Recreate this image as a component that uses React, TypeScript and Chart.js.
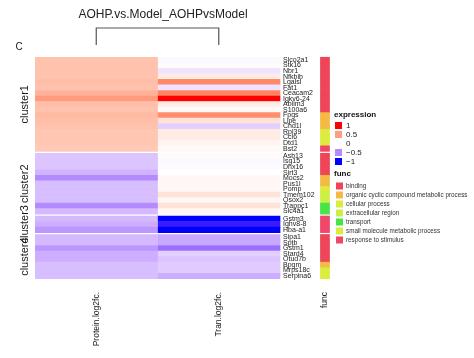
import React, { useEffect, useRef } from "react";
import { Chart, registerables } from "chart.js";
Chart.register(...registerables);

const FONT = '"Liberation Sans", Arial, sans-serif';

const clusterNames = ["cluster1", "cluster2", "cluster3", "cluster4"];
const cluster1Genes = ["Slco2a1", "Stk16", "Nbr1", "Nfkbib", "Lgalsl", "Fat1", "Ceacam2", "Igkv6-24", "Ablim3", "S100a6", "Fpgs", "Lipe", "Chd1l", "Rpl39", "Ccl6", "Dtd1", "Bst2"];
const cluster2Genes = ["Asb13", "Isg15", "Dhx16", "Sirt3", "Mocs2", "Pus1l", "Pomp", "Tmem102", "Qsox2", "Trappc1", "Slc4a1"];
const cluster3Genes = ["Gstm3", "Ighv8-8", "Hba-a1"];
const cluster4Genes = ["Sipa1", "Sptb", "Gstm1", "Stard4", "Otud7b", "Bpgm", "Mrps18c", "Serpina6"];

const proteinC1 = [0.32, 0.32, 0.32, 0.32, 0.34, 0.32, 0.4, 0.52, 0.34, 0.32, 0.36, 0.34, 0.32, 0.3, 0.3, 0.3, 0.28];
const tranC1 = [-0.03, 0.02, -0.12, 0.1, 0.6, -0.12, 0.62, 1.0, 0.1, 0.03, 0.58, 0.15, -0.2, 0.1, 0.1, 0.06, 0.03];
const proteinC2 = [-0.25, -0.25, -0.25, -0.32, -0.5, -0.28, -0.28, -0.28, -0.28, -0.5, -0.3];
const tranC2 = [0.02, -0.03, -0.02, 0.0, 0.04, 0.04, 0.04, 0.15, 0.04, 0.15, 0.04];
const proteinC3 = [-0.3, -0.35, -0.45];
const tranC3 = [-1.0, -0.95, -1.0];
const proteinC4 = [-0.3, -0.3, -0.45, -0.35, -0.35, -0.28, -0.28, -0.28];
const tranC4 = [-0.38, -0.38, -0.62, -0.2, -0.25, -0.22, -0.22, -0.35];

const funcNames = ["binding", "organic cyclic compound metabolic process", "cellular process", "extracellular region", "transport", "small molecule metabolic process", "response to stimulus"];
const funcColors = ["#EE4558", "#F4BA43", "#DCEB3F", "#CDEE45", "#47E347", "#D9ED3C", "#F0466A"];
const funcC1 = [0, 0, 0, 0, 0, 0, 0, 0, 0, 0, 1, 1, 1, 2, 2, 2, 6];
const funcC2 = [0, 0, 0, 0, 1, 1, 2, 3, 3, 4, 4];
const funcC3 = [6, 6, 6];
const funcC4 = [0, 0, 0, 0, 0, 1, 5, 5];

const columnLabels = ["Protein.log2fc.", "Tran.log2fc.", "func"];
const legendValues = [1, 0.5, 0, -0.5, -1];
const legendLabels = ["1", "0.5", "0", "\u22120.5", "\u22121"];
const titleText = "AOHP.vs.Model_AOHPvsModel";

const clusters = [
  { genes: cluster1Genes, protein: proteinC1, tran: tranC1, func: funcC1 },
  { genes: cluster2Genes, protein: proteinC2, tran: tranC2, func: funcC2 },
  { genes: cluster3Genes, protein: proteinC3, tran: tranC3, func: funcC3 },
  { genes: cluster4Genes, protein: proteinC4, tran: tranC4, func: funcC4 },
];

const GAP = 1 / 3;
const genes: string[] = [];
const protein: number[] = [];
const tran: number[] = [];
const func: number[] = [];
const yPos: number[] = [];
const clusterOf: number[] = [];
{
  let idx = 0;
  clusters.forEach((c, ci) => {
    c.genes.forEach((g, j) => {
      genes.push(g);
      protein.push(c.protein[j]);
      tran.push(c.tran[j]);
      func.push(c.func[j]);
      yPos.push(idx + ci * GAP);
      clusterOf.push(ci);
      idx++;
    });
  });
}

// LAB interpolation (like colorRamp2)
function toLin(c: number) {
  c /= 255;
  return c <= 0.04045 ? c / 12.92 : Math.pow((c + 0.055) / 1.055, 2.4);
}
function fromLin(c: number) {
  const v = c <= 0.0031308 ? 12.92 * c : 1.055 * Math.pow(c, 1 / 2.4) - 0.055;
  return Math.max(0, Math.min(255, Math.round(v * 255)));
}
const Xn = 0.95047, Yn = 1.0, Zn = 1.08883;
function f(t: number) {
  return t > 216 / 24389 ? Math.cbrt(t) : (24389 / 27 * t + 16) / 116;
}
function finv(t: number) {
  return t * t * t > 216 / 24389 ? t * t * t : (116 * t - 16) / (24389 / 27);
}
function rgbToLab(rgb: number[]) {
  const r = toLin(rgb[0]), g = toLin(rgb[1]), b = toLin(rgb[2]);
  const X = r * 0.4124 + g * 0.3576 + b * 0.1805;
  const Y = r * 0.2126 + g * 0.7152 + b * 0.0722;
  const Z = r * 0.0193 + g * 0.1192 + b * 0.9505;
  const fx = f(X / Xn), fy = f(Y / Yn), fz = f(Z / Zn);
  return [116 * fy - 16, 500 * (fx - fy), 200 * (fy - fz)];
}
function labToRgb(lab: number[]) {
  const fy = (lab[0] + 16) / 116;
  const fx = fy + lab[1] / 500;
  const fz = fy - lab[2] / 200;
  const X = finv(fx) * Xn, Y = finv(fy) * Yn, Z = finv(fz) * Zn;
  const r = X * 3.2406 + Y * -1.5372 + Z * -0.4986;
  const g = X * -0.9689 + Y * 1.8758 + Z * 0.0415;
  const b = X * 0.0557 + Y * -0.204 + Z * 1.057;
  return [fromLin(r), fromLin(g), fromLin(b)];
}
const LAB_W = rgbToLab([255, 255, 255]);
const LAB_R = rgbToLab([255, 0, 0]);
const LAB_B = rgbToLab([0, 0, 255]);
function expColor(v: number) {
  const t = Math.min(1, Math.abs(v));
  const end = v >= 0 ? LAB_R : LAB_B;
  const lab = [0, 1, 2].map((k) => LAB_W[k] + (end[k] - LAB_W[k]) * t);
  const c = labToRgb(lab);
  return `rgb(${c[0]},${c[1]},${c[2]})`;
}

const overlay = {
  id: "overlay",
  afterDatasetsDraw(chart: any) {
    const { ctx } = chart;
    const x = chart.scales.x;
    const y = chart.scales.y;
    ctx.save();
    ctx.fillStyle = "#1a1a1a";

    // gene labels
    ctx.font = `7px ${FONT}`;
    ctx.textAlign = "left";
    ctx.textBaseline = "middle";
    genes.forEach((g, i) => {
      ctx.fillText(g, x.getPixelForValue(2) + 3, y.getPixelForValue(yPos[i]));
    });

    // column labels (rotated)
    const centers = [0.5, 1.5, 2.367];
    ctx.font = `8.5px ${FONT}`;
    columnLabels.forEach((lab, k) => {
      ctx.save();
      ctx.translate(x.getPixelForValue(centers[k]), y.bottom + 4);
      ctx.rotate(-Math.PI / 2);
      ctx.textAlign = "right";
      ctx.textBaseline = "middle";
      ctx.fillText(lab, 0, 0);
      ctx.restore();
    });

    // cluster labels
    ctx.font = `11px ${FONT}`;
    clusterNames.forEach((name, ci) => {
      const idx = clusterOf.map((c, i) => (c === ci ? i : -1)).filter((i) => i >= 0);
      const y0 = y.getPixelForValue(yPos[idx[0]]);
      const y1 = y.getPixelForValue(yPos[idx[idx.length - 1]]);
      ctx.save();
      ctx.translate(25, (y0 + y1) / 2);
      ctx.rotate(-Math.PI / 2);
      ctx.textAlign = "center";
      ctx.textBaseline = "middle";
      ctx.fillText(name, 0, 0);
      ctx.restore();
    });

    // panel letter
    ctx.font = `10px ${FONT}`;
    ctx.textAlign = "center";
    ctx.fillText("C", 19, 47);

    // title and dendrogram
    ctx.font = `12px ${FONT}`;
    ctx.fillStyle = "#222";
    ctx.fillText(titleText, 163, 15);
    const xa = x.getPixelForValue(0.5);
    const xb = x.getPixelForValue(1.5);
    ctx.strokeStyle = "#555";
    ctx.lineWidth = 1.2;
    ctx.beginPath();
    ctx.moveTo(xa, 45);
    ctx.lineTo(xa, 28);
    ctx.lineTo(xb, 28);
    ctx.lineTo(xb, 45);
    ctx.stroke();

    // expression legend
    ctx.fillStyle = "#111";
    ctx.textAlign = "left";
    ctx.font = `bold 8px ${FONT}`;
    ctx.fillText("expression", 334, 115);
    ctx.font = `8px ${FONT}`;
    legendValues.forEach((v, k) => {
      const top = 122 + k * 9;
      ctx.fillStyle = expColor(v);
      ctx.fillRect(335, top, 7, 7);
      ctx.fillStyle = "#222";
      ctx.fillText(legendLabels[k], 346, top + 3.8);
    });

    // func legend
    ctx.font = `bold 8px ${FONT}`;
    ctx.fillStyle = "#111";
    ctx.fillText("func", 334, 174);
    ctx.font = `6.3px ${FONT}`;
    funcNames.forEach((n, k) => {
      const cy = 186 + k * 9;
      ctx.fillStyle = funcColors[k];
      ctx.fillRect(336, cy - 3.5, 7, 7);
      ctx.fillStyle = "#333";
      ctx.fillText(n, 346, cy + 0.5);
    });

    ctx.restore();
  },
};

export default function App() {
  const ref = useRef<HTMLCanvasElement | null>(null);
  useEffect(() => {
    if (!ref.current) return;
    const mk = (range: number[], colors: string[], label: string) => ({
      label,
      data: genes.map((g, i) => ({ x: range, y: yPos[i] })),
      backgroundColor: colors,
      borderWidth: 0,
      grouped: false,
      barPercentage: 1,
      categoryPercentage: 1,
    });
    const chart = new Chart(ref.current, {
      type: "bar",
      data: {
        datasets: [
          mk([0, 1], protein.map(expColor), "Protein.log2fc."),
          mk([1, 2], tran.map(expColor), "Tran.log2fc."),
          mk([2.33, 2.404], func.map((k) => funcColors[k]), "func"),
        ] as any,
      },
      options: {
        indexAxis: "y",
        animation: false,
        responsive: false,
        maintainAspectRatio: false,
        layout: { padding: { left: 35, top: 48, right: 144, bottom: 70 } },
        plugins: { legend: { display: false }, tooltip: { enabled: false } },
        scales: {
          x: { type: "linear", min: 0, max: 2.408, display: false },
          y: {
            type: "linear",
            reverse: true,
            min: -0.5,
            max: 39.5,
            display: false,
            afterBuildTicks: (s: any) => {
              s.ticks = yPos.map((v) => ({ value: v }));
            },
          },
        },
      } as any,
      plugins: [overlay],
    });
    return () => chart.destroy();
  }, []);
  return (
    <div style={{ position: "absolute", left: 0, top: 0, width: 474, height: 358, background: "#fff" }}>
      <canvas ref={ref} width={474} height={358} />
    </div>
  );
}
